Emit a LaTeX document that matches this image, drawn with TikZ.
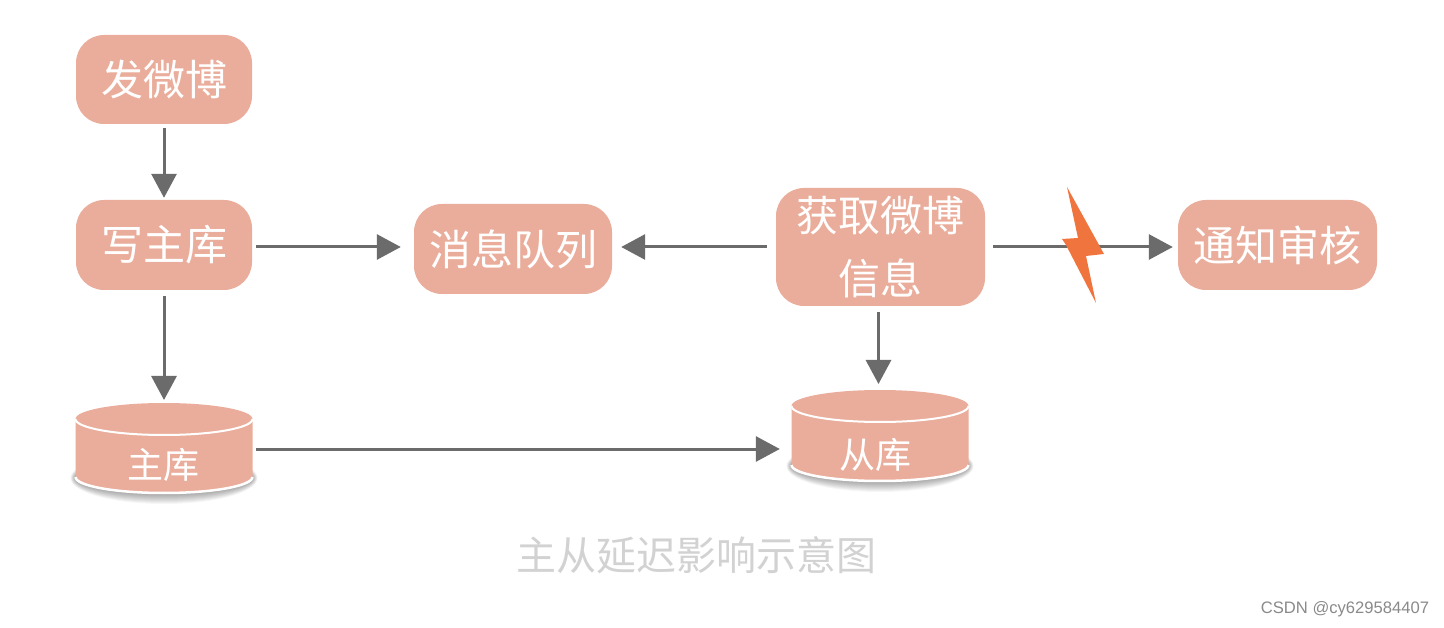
\documentclass[tikz,border=0pt]{standalone}
\usepackage{fontspec}
\setmainfont{Liberation Sans}
\newfontfamily\cjkf{Noto Sans CJK SC}
\usetikzlibrary{arrows.meta}
\definecolor{boxc}{HTML}{EAAD9B}
\definecolor{arrc}{HTML}{6B6B6B}
\definecolor{boltc}{HTML}{F0743E}
\definecolor{capc}{HTML}{D2D2D2}
\definecolor{markc}{HTML}{8A8A8A}
\tikzset{
  x=1pt,y=-1pt,
  rbox/.style={fill=boxc,rounded corners=28pt,inner sep=0pt,text=white,align=center,font=\cjkf\fontsize{42}{63}\selectfont},
  dbtext/.style={inner sep=0pt,text=white,font=\cjkf\fontsize{36}{40}\selectfont,minimum width=178pt,minimum height=60pt},
  flow/.style={draw=arrc,line width=3pt,-{Triangle[length=24pt,width=25pt]}},
}
\newcommand{\dbshape}[5]{% cx, ytop, halfwidth, ellipse bottom, cylinder bottom
  \pgfmathsetmacro{\ry}{(#4-#2)/2}
  \pgfmathsetmacro{\yc}{#2+\ry}
  \pgfmathsetmacro{\ys}{#5-\ry}
  \foreach \d in {10,9,8,7,6,5,4,3,2,1}{
    \fill[black,opacity=.035] (#1,\ys+1) ellipse[x radius=#3+\d*0.5,y radius=\ry+\d*1.0];
  }
  \fill[boxc] (#1-#3,\yc) -- (#1-#3,\ys) arc[start angle=180,end angle=360,x radius=#3,y radius=-\ry]
     -- (#1+#3,\yc) arc[start angle=0,end angle=180,x radius=#3,y radius=-\ry] -- cycle;
  \draw[white,line width=2.5pt] (#1-#3,\ys) arc[start angle=180,end angle=360,x radius=#3,y radius=-\ry];
  \draw[white,line width=2pt] (#1-#3,\yc) arc[start angle=180,end angle=360,x radius=#3,y radius=-\ry];
}
\begin{document}
\begin{tikzpicture}
\useasboundingbox (0,0) rectangle (1444,628);
\fill[white] (0,0) rectangle (1444,628);

\node[rbox,minimum width=176pt,minimum height=89pt] (post) at (164,79.5) {发微博};
\node[rbox,minimum width=176pt,minimum height=90pt] (write) at (164,245) {写主库};
\node[rbox,minimum width=198pt,minimum height=90pt] (queue) at (513,249) {消息队列};
\node[rbox,minimum width=209pt,minimum height=118pt] (fetch) at (880.5,247) {获取微博\\信息};
\node[rbox,minimum width=199pt,minimum height=90pt] (notify) at (1277.5,245) {通知审核};

\dbshape{164}{403}{88.5}{435}{493}
\node[dbtext] (master) at (163,465) {主库};
\dbshape{880}{390}{88.5}{422}{481}
\node[dbtext] (slave) at (875,455) {从库};

\draw[flow,shorten <=4pt,shorten >=2pt] (post.south) -- (write.north);
\draw[flow,shorten <=6pt,shorten >=3pt] (write.south) -- (write.south |- 0,403);
\draw[flow,shorten <=4pt,shorten >=13pt] ([yshift=-2pt]write.east) -- ([yshift=2pt]queue.west);
\draw[flow,shorten <=9pt,shorten >=9pt] (fetch.west) -- ([yshift=2pt]queue.east);
\draw[flow,shorten <=6pt,shorten >=6pt] ([xshift=-2pt]fetch.south) -- ([xshift=-2pt]fetch.south |- 0,390);
\draw[flow,shorten <=4pt,shorten >=6pt] ([yshift=16pt]master.east) -- ([yshift=6pt]slave.west);
\draw[flow,shorten <=8pt,shorten >=5pt] (fetch.east) -- ([yshift=-2pt]notify.west);

\fill[boltc] (1067,187) -- (1104,254) -- (1086,256) -- (1096,303) -- (1066,245) -- (1062,239) -- (1078,238) -- cycle;

\node[inner sep=0pt,text=capc,font=\cjkf\fontsize{40}{44}\selectfont] (caption) at (696,555) {主从延迟影响示意图};
\node[inner sep=0pt,text=markc,font=\fontsize{16.6}{18}\selectfont] (mark) at (1345,609) {CSDN @cy629584407};
\end{tikzpicture}
\end{document}
